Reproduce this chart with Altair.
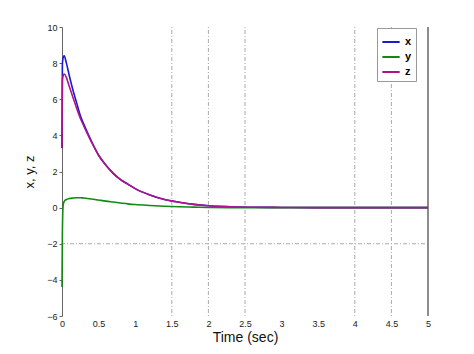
import altair as alt
import pandas as pd

t = [0, 0.005, 0.015, 0.03, 0.06, 0.1, 0.15, 0.2, 0.25, 0.3, 0.4, 0.5, 0.6, 0.7, 0.8, 0.9,
     1.0, 1.2, 1.4, 1.6, 1.8, 2.0, 2.3, 2.6, 3.0, 3.5, 4.0, 5.0]
x_vals = [3.3, 7.9, 8.3, 8.4, 8.0, 7.3, 6.5, 5.8, 5.1, 4.6, 3.7, 2.9, 2.35, 1.9, 1.55, 1.3,
          1.05, 0.7, 0.45, 0.3, 0.18, 0.1, 0.05, 0.02, 0.01, 0.0, 0.0, 0.0]
y_vals = [-4.4, -1.5, 0.1, 0.35, 0.45, 0.5, 0.53, 0.55, 0.55, 0.53, 0.48, 0.42, 0.36, 0.31, 0.26, 0.21,
          0.17, 0.12, 0.08, 0.05, 0.03, 0.01, 0.0, 0.0, 0.0, 0.0, 0.0, 0.0]
z_vals = [3.3, 7.0, 7.3, 7.4, 7.2, 6.7, 6.1, 5.5, 4.95, 4.5, 3.65, 2.9, 2.35, 1.9, 1.55, 1.3,
          1.05, 0.7, 0.45, 0.3, 0.18, 0.1, 0.05, 0.02, 0.01, 0.0, 0.0, 0.0]
series = ["x", "y", "z"]
colors = ["#1a1ad0", "#128a12", "#b0128c"]
vgrid = [1.5, 2, 2.5, 4, 4.5]
hgrid = [-2]
x_ticks = [0, 0.5, 1, 1.5, 2, 2.5, 3, 3.5, 4, 4.5, 5]
y_ticks = [-6, -4, -2, 0, 2, 4, 6, 8, 10]

rows = []
for name, vals in zip(series, [x_vals, y_vals, z_vals]):
    for ti, v in zip(t, vals):
        rows.append({"t": ti, "v": v, "s": name})
df = pd.DataFrame(rows)

xs = alt.Scale(domain=[0, 5], nice=False)
ys = alt.Scale(domain=[-6, 10], nice=False)

ax_x = alt.Axis(title="Time (sec)", values=x_ticks, format="~g", grid=False,
                domain=False, ticks=False, labelFontSize=9, labelColor="#222",
                labelOverlap=False, labelFlush=False,
                labelPadding=3, titleFontSize=14, titleFontWeight="normal",
                titleFont="Liberation Sans", labelFont="Liberation Sans",
                titlePadding=2, titleColor="#111")
ax_y = alt.Axis(title="x, y, z", values=y_ticks, grid=False, domainColor="#666",
                tickSize=3, tickColor="#666", labelFontSize=9, labelColor="#222",
                labelOverlap=False, labelFlush=False,
                titleFontSize=13, titleFontWeight="normal",
                titleFont="Liberation Sans", labelFont="Liberation Sans",
                titlePadding=10, titleColor="#111")

vg = alt.Chart(pd.DataFrame({"g": vgrid})).mark_rule(
    color="#aaaaaa", strokeDash=[1, 2, 4, 2], strokeWidth=1
).encode(x=alt.X("g:Q", scale=xs, axis=ax_x, title="Time (sec)"))
hg = alt.Chart(pd.DataFrame({"g": hgrid})).mark_rule(
    color="#aaaaaa", strokeDash=[1, 2, 4, 2], strokeWidth=1
).encode(y=alt.Y("g:Q", scale=ys, axis=ax_y, title="x, y, z"))
right = alt.Chart(pd.DataFrame({"g": [5]})).mark_rule(
    color="#8c8c8c", strokeWidth=2
).encode(x=alt.X("g:Q", scale=xs, axis=ax_x, title="Time (sec)"))

lines = alt.Chart(df).mark_line(strokeWidth=1.6, interpolate="monotone").encode(
    x=alt.X("t:Q", scale=xs, axis=ax_x, title="Time (sec)"),
    y=alt.Y("v:Q", scale=ys, axis=ax_y, title="x, y, z"),
    color=alt.Color("s:N", scale=alt.Scale(domain=series, range=colors),
                    legend=alt.Legend(title=None, orient="none", legendX=315, legendY=1,
                                      symbolType="stroke", symbolSize=300, symbolStrokeWidth=2,
                                      labelFontSize=11, labelFontWeight="bold",
                                      labelFont="Liberation Sans", rowPadding=0,
                                      strokeColor="#999", padding=4, fillColor="white")),
    order=alt.Order("s:N", sort="ascending"),
)

chart = alt.layer(vg, hg, right, lines).properties(
    width=366, height=289,
    padding={"left": 62, "top": 27, "right": 46, "bottom": 38},
    autosize=alt.AutoSizeParams(type="none"),
).configure_view(stroke=None)

chart.save("out.html", embed_options={"renderer": "svg", "actions": False})
